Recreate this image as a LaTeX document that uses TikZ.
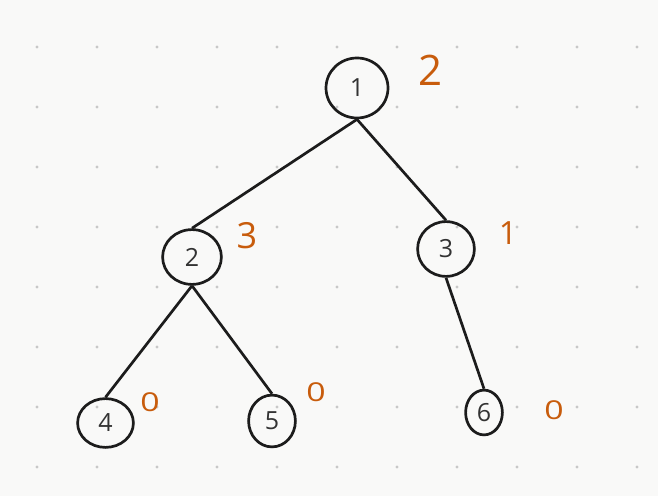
\documentclass[tikz,border=0pt]{standalone}
\usepackage{fontspec}
\setmainfont{Open Sans}
\usetikzlibrary{shapes.geometric}
\definecolor{paper}{RGB}{249,249,248}
\definecolor{griddot}{RGB}{200,200,200}
\definecolor{ink}{RGB}{28,28,28}
\definecolor{scribble}{RGB}{200,92,12}
\tikzset{
    vertex/.style={
        draw=ink, ellipse,
        line width=1.35pt,
        inner sep=0pt,
        text=black!80,
        font=\fontsize{12.5}{14}\selectfont
    },
    edge/.style = {draw=ink, line width=1.35pt},
    note/.style = {text=scribble, inner sep=0pt}
}

\begin{document}
\begin{tikzpicture}[x=0.5pt, y=-0.5pt]

    % Paper and dot grid
    \fill[paper] (0,0) rectangle (658,496);
    \useasboundingbox (0,0) rectangle (658,496);
    \foreach \x in {37,97,...,637}
        \foreach \y in {47,107,...,467}
            \fill[griddot] (\x,\y) circle (0.8pt);

    % Nodes
    \node[vertex, minimum width=31pt, minimum height=30pt] (n1) at (357,88) {1};
    \node[vertex, minimum width=29.4pt, minimum height=27.4pt] (n2) at (192,257) {2};
    \node[vertex, minimum width=28.4pt, minimum height=27.4pt] (n3) at (446,249) {3};
    \node[vertex, minimum width=27.9pt, minimum height=24.4pt] (n4) at (105.5,423) {4};
    \node[vertex, minimum width=23.4pt, minimum height=25.9pt] (n5) at (272,421) {5};
    \node[vertex, minimum width=18.4pt, minimum height=22.4pt] (n6) at (484,412.5) {6};

    % Lines
    \draw[edge] (n1.south) -- (n2.north);
    \draw[edge] (n1.south) -- (n3.north);
    \draw[edge] (n2.south) -- (n4.north);
    \draw[edge] (n2.south) -- (n5.north);
    \draw[edge] (n3.south) -- (n6.north);

    % Heights scribbled next to the nodes
    \node[note, font=\fontsize{21}{21}\selectfont] (h1) at (431,70) {2};
    \node[note, font=\fontsize{18}{18}\selectfont] (h2) at (247,236) {3};
    \node[note, font=\fontsize{16}{16}\selectfont] (h3) at (508,233) {1};
    \node[note, font=\fontsize{13}{13}\selectfont, xscale=1.3] (h4) at (150,402) {0};
    \node[note, font=\fontsize{13}{13}\selectfont, xscale=1.3] (h5) at (316,392) {0};
    \node[note, font=\fontsize{13}{13}\selectfont, xscale=1.3] (h6) at (554,410) {0};

\end{tikzpicture}
\end{document}
